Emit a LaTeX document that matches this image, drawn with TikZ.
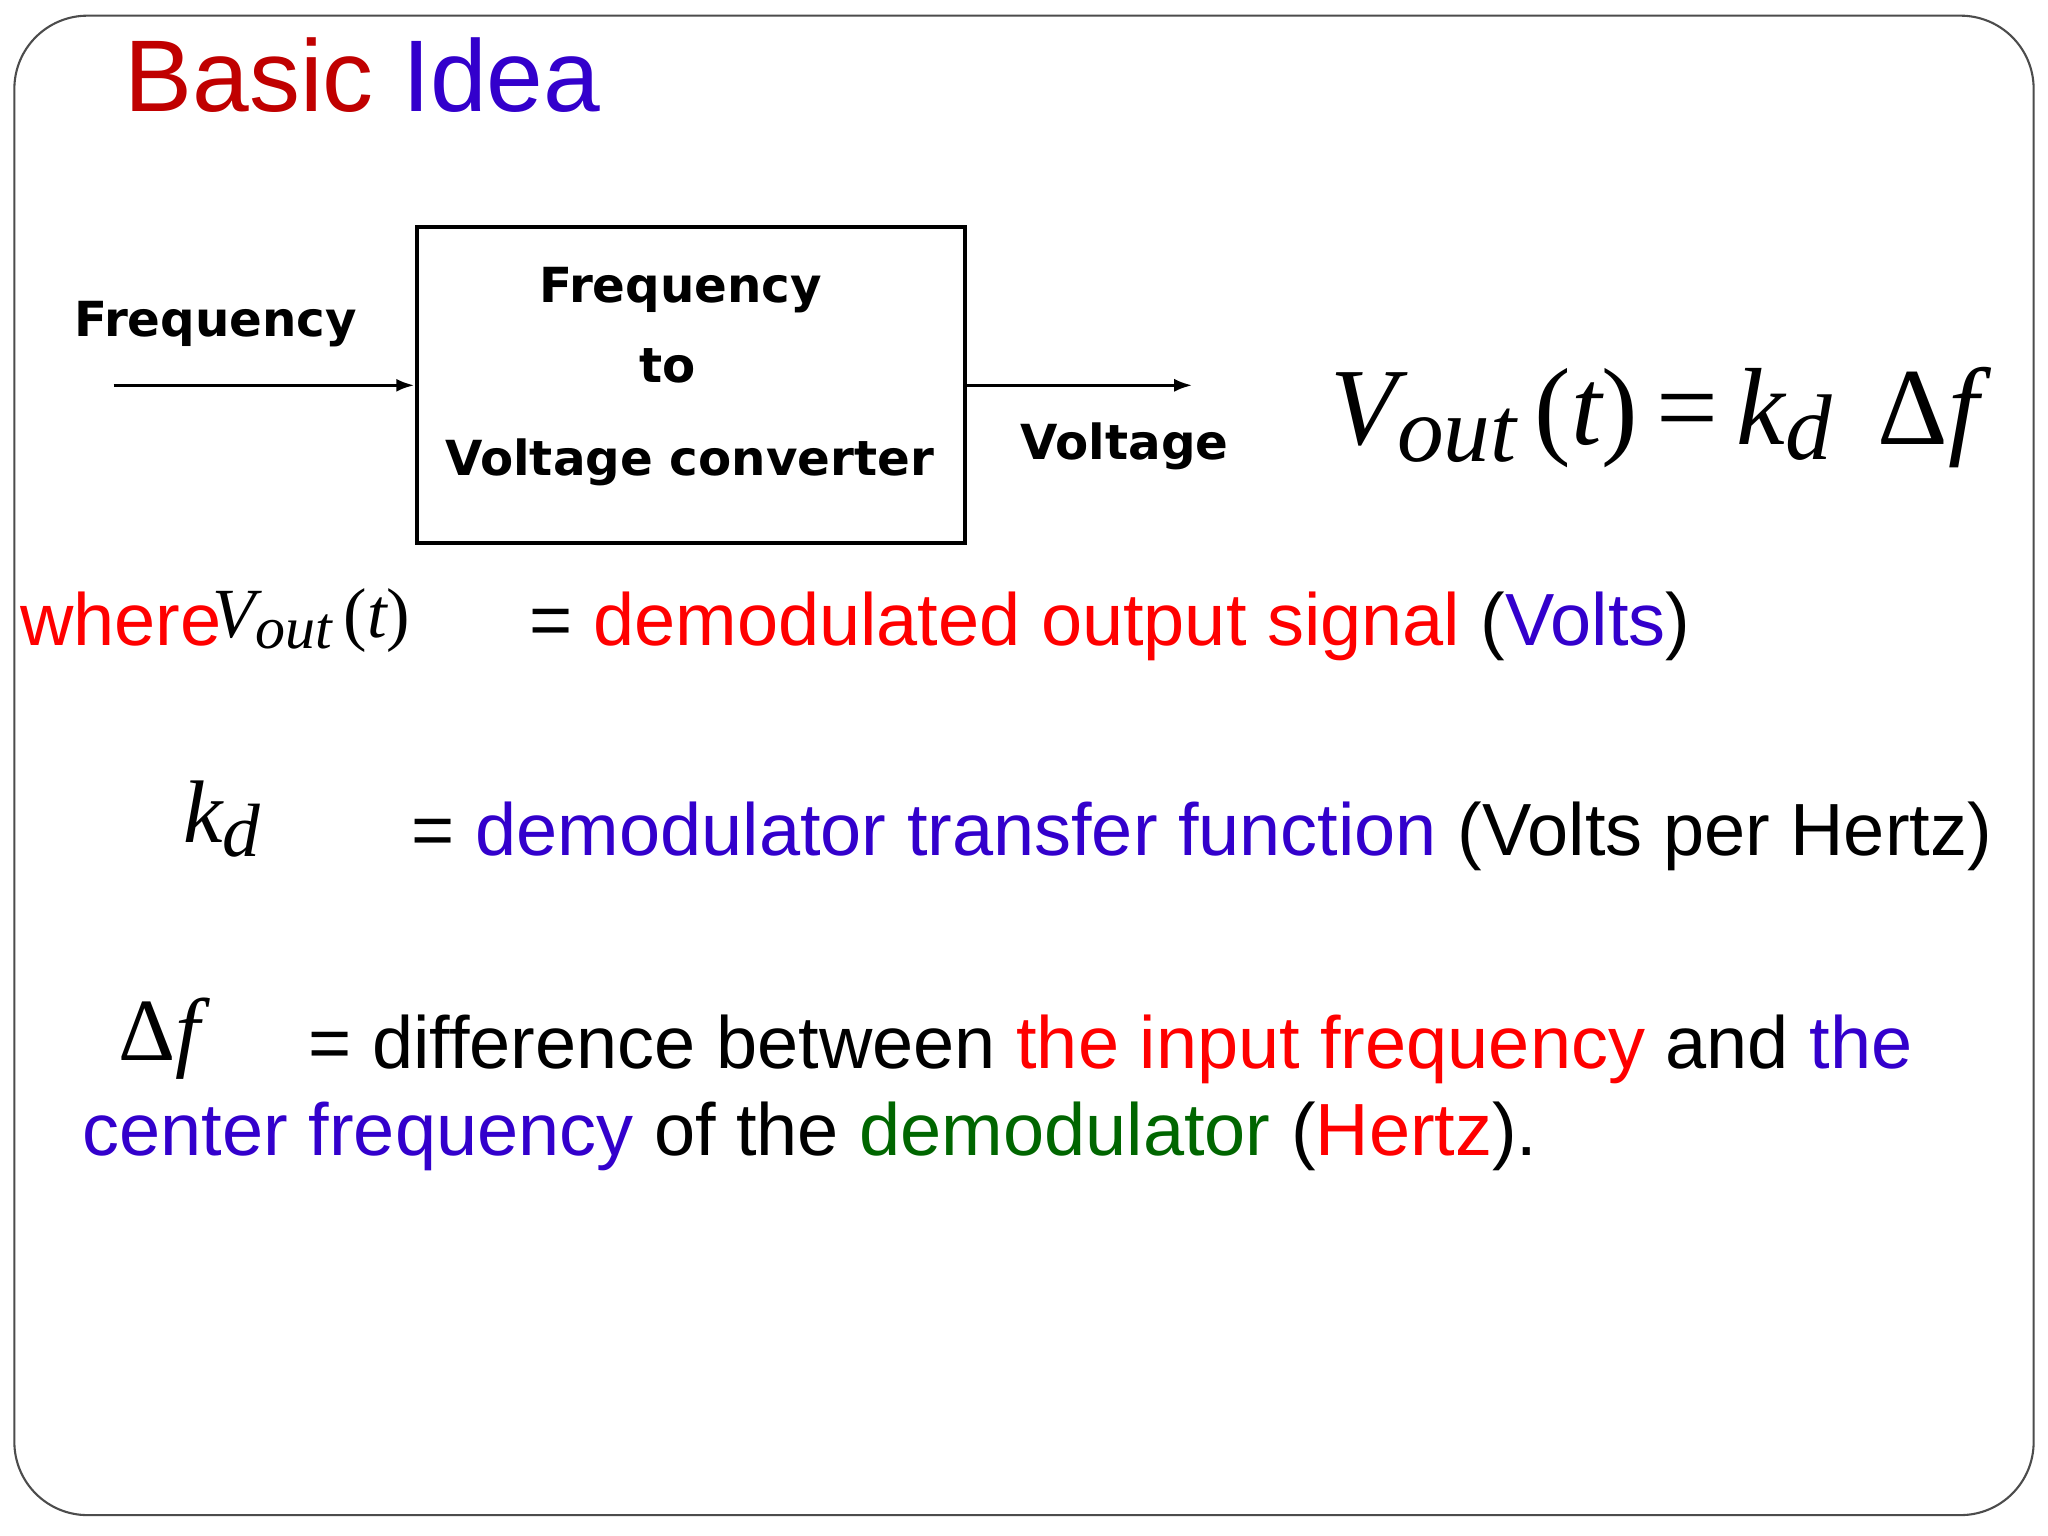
\documentclass[tikz,border=0pt]{standalone}
\usepackage{fontspec}
\setmainfont{Liberation Sans}
\newfontfamily\serifit{Liberation Serif}
\newfontfamily\boxfont{DejaVu Sans}
\usetikzlibrary{arrows.meta}
\definecolor{tred}{RGB}{192,0,0}
\definecolor{tblue}{RGB}{51,0,204}
\definecolor{rred}{RGB}{255,0,0}
\definecolor{dgreen}{RGB}{0,102,0}
\newcommand{\mvar}[1]{{\serifit\itshape #1}}
\newcommand{\msub}[1]{\raisebox{-0.3ex}{\scalebox{0.85}{\mvar{#1}}}}
\begin{document}
\begin{tikzpicture}[x=0.5pt,y=-0.5pt,
  lbl/.style={font=\boxfont\fontsize{18.5}{22}\selectfont\bfseries, inner sep=0pt},
  body/.style={font=\fontsize{28.3}{34}\selectfont, anchor=base west, inner sep=0pt},
  arr/.style={line width=1.3pt,-{Latex[length=7pt,width=5pt]}}]
\useasboundingbox (0,0) rectangle (1568,1176);
\fill[white] (0,0) rectangle (1568,1176);
\draw[line width=0.8pt, rounded corners=28pt, black!70] (11,12) rectangle (1557,1160);
\node[anchor=base west, inner sep=0pt, font=\fontsize{39}{44}\selectfont] (title) at (95,85) {\textcolor{tred}{Basic} \textcolor{tblue}{Idea}};
\node[draw, line width=1.6pt, minimum width=210pt, minimum height=121pt, inner sep=0pt] (box) at (529,295) {};
\node[lbl] (b1) at (521,222) {Frequency};
\node[lbl] (b2) at (511,280) {to};
\node[lbl] (b3) at (528,354) {Voltage converter};
\node[lbl] (fin) at (165,248) {Frequency};
\node[lbl] (vout) at (861,342) {Voltage};
\coordinate (inS) at (87,295);
\coordinate (outE) at (913,295);
\draw[arr] (inS) -- (box.west);
\draw[arr] (box.east) -- (outE);
\node[anchor=base west, inner sep=0pt, font=\fontsize{42}{48}\selectfont] (eq) at (1018,340) {\mvar{V}\msub{out}{\serifit\,(\mvar{t})\,=\,\mvar{k}\msub{d}\ \,Δ\mvar{f}}};
\node[body] (w) at (15,494) {\textcolor{rred}{where}};
\node[anchor=base west, inner sep=0pt, font=\fontsize{27}{32}\selectfont] (w2) at (162,488) {\mvar{V}\msub{out}{\serifit\,(\mvar{t})}};
\node[body] (l1) at (405,494) {= \textcolor{rred}{demodulated output signal} (\textcolor{tblue}{Volts})};
\node[anchor=base west, inner sep=0pt, font=\fontsize{34}{40}\selectfont] (kd) at (140,645) {\mvar{k}\msub{d}};
\node[body] (l2) at (315,655) {= \textcolor{tblue}{demodulator transfer function} (Volts per Hertz)};
\node[anchor=base west, inner sep=0pt, font=\fontsize{34}{40}\selectfont] (df) at (90,812) {{\serifit Δ}\mvar{f}};
\node[body] (l3) at (236,818) {= difference between \textcolor{rred}{the input frequency} and \textcolor{tblue}{the}};
\node[body] (l4) at (63,885) {\textcolor{tblue}{center frequency} of the \textcolor{dgreen}{demodulator} (\textcolor{rred}{Hertz}).};
\end{tikzpicture}
\end{document}
